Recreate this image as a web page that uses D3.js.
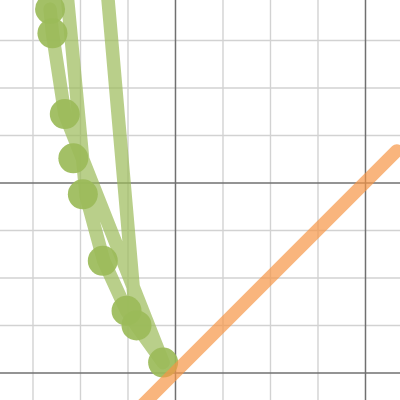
<!DOCTYPE html>
<meta charset="utf-8">
<title>Points and line</title>
<script src="https://cdn.jsdelivr.net/npm/d3@7"></script>
<style>
  body { margin: 0; background: #fff; }
  svg { display: block; }
</style>
<body>
<div id="viz"></div>

<script>

// visible window, in graph units
var xMin = -3.684, xMax = 4.737
   ,yMin = -4.579, yMax = 3.842;

// grid
var minorX = [-3, -2, -1, 1, 2, 3]
   ,minorY = [-3, -2, -1, 1, 2, 3]
   ,majorX = [0, 4]
   ,majorY = [-4, 0];

// green scatter points
var pointX = [-2.63, -2.58, -2.32, -2.14, -1.94, -1.52, -1.02, -0.81, -0.25];
var pointY = [3.65, 3.14, 1.44, 0.51, -0.25, -1.65, -2.70, -3.01, -3.79];

// green connecting line (runs off the top twice)
var pathX = [-2.63, -2.58, -2.32, -0.25, -0.81, -1.02, -1.50, -1.87, -2.38, -1.52, -0.81];
var pathY = [3.65, 3.14, 1.44, -3.79, -3.01, -2.70, -1.65, -0.29, 5.11, 5.11, -3.01];

// orange line y = x - 4
var lineX = [-1, 4.67];
var lineY = [-5, 0.67];

var svg_w = 400
   ,svg_h = 400;

var svg = d3.select("#viz").append("svg")
            .attr("width", svg_w)
            .attr("height", svg_h);

var x = d3.scaleLinear().domain([xMin, xMax]).range([0, svg_w]);
var y = d3.scaleLinear().domain([yMin, yMax]).range([svg_h, 0]);

var gridAxis = function(axis, vals, color, w) {
  var g = svg.append("g").call(axis.tickValues(vals).tickFormat(""));
  g.select(".domain").remove();
  g.selectAll(".tick line").attr("stroke", color).attr("stroke-width", w);
  return g;
}

gridAxis(d3.axisTop(x).tickSize(-svg_h), minorX, "#d2d2d2", 1.4);
gridAxis(d3.axisLeft(y).tickSize(-svg_w), minorY, "#d2d2d2", 1.4);
gridAxis(d3.axisTop(x).tickSize(-svg_h), majorX, "#707070", 1.5);
gridAxis(d3.axisLeft(y).tickSize(-svg_w), majorY, "#707070", 1.5);

var line = d3.line()
  .x(function (d) { return x(d[0]) })
  .y(function (d) { return y(d[1]) });

svg.append("path")
  .datum(d3.zip(pathX, pathY))
  .attr("d", line)
  .attr("fill", "none")
  .attr("stroke", "#9bbb59")
  .attr("stroke-opacity", 0.7)
  .attr("stroke-width", 13.5)
  .attr("stroke-linejoin", "round")
  .attr("stroke-linecap", "round");

svg.selectAll(".pt")
  .data(d3.zip(pointX, pointY))
  .enter()
  .append("circle")
  .classed("pt", true)
  .attr("cx", function (d) { return x(d[0]) })
  .attr("cy", function (d) { return y(d[1]) })
  .attr("r", 15)
  .attr("fill", "#9bbb59")
  .attr("fill-opacity", 0.92);

svg.append("path")
  .datum(d3.zip(lineX, lineY))
  .attr("d", line)
  .attr("fill", "none")
  .attr("stroke", "#f79646")
  .attr("stroke-opacity", 0.7)
  .attr("stroke-width", 13)
  .attr("stroke-linecap", "round");

</script>
